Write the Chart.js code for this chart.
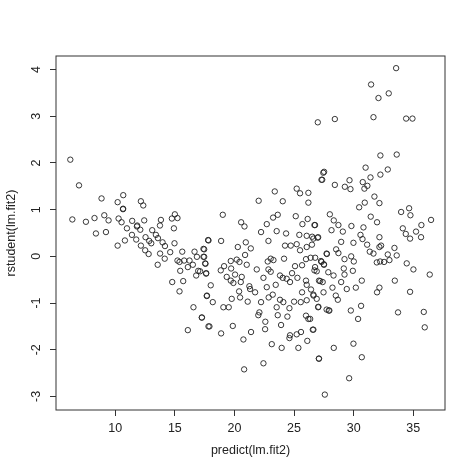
<!DOCTYPE html>
<html><head><meta charset="utf-8">
<script src="https://cdn.jsdelivr.net/npm/chart.js@4/dist/chart.umd.min.js"></script>
<style>html,body{margin:0;padding:0;background:#fff}#w{width:474px;height:474px}</style>
</head><body><div id="w"><canvas id="c"></canvas></div>
<script>
const xTicks=[10,15,20,25,30,35];
const yTicks=[-3,-2,-1,0,1,2,3,4];
const predicted=[6.23,6.96,6.4,7.54,8.26,8.38,8.85,9.08,9.22,9.44,10.2,10.67,10.65,10.66,10.28,10.53,10.2,10.81,10.98,11.42,11.4,11.82,11.84,12.1,12.15,12.35,12.43,11.76,12.15,12.54,12.51,12.8,12.85,13.02,13.1,13.41,13.58,13.75,13.83,13.97,14.17,13.76,14.15,13.56,14.61,14.75,15.0,15.22,14.92,14.97,15.62,15.22,15.39,15.78,16.23,15.45,16.09,16.51,16.65,16.85,17.4,17.82,17.46,17.57,16.96,16.79,17.63,17.69,14.78,15.7,15.39,16.56,17.27,16.09,17.82,
22.03,23.38,25.22,25.5,26.2,24.05,26.2,27.45,27.3,19.02,20.56,20.84,23.24,23.63,25.14,26.14,25.7,26.76,22.23,22.71,23.54,24.33,25.44,26.06,26.62,26.98,17.79,18.88,22.85,24.24,24.72,25.22,25.5,26.06,26.5,27.73,20.95,20.28,21.37,20.89,17.46,17.4,17.54,17.62,17.12,19.13,19.69,20.19,20.42,21.03,19.72,18.85,19.35,19.69,19.91,20.05,20.61,20.53,18.01,17.68,18.18,19.07,19.52,19.77,20.39,20.47,21.11,21.31,21.25,21.73,21.87,22.43,22.79,23.04,22.85,23.04,23.27,24.16,23.82,23.46,22.71,22.23,22.87,23.21,23.82,24.1,23.54,23.63,24.61,24.44,22.09,22.0,22.59,22.57,23.91,24.05,24.38,24.66,25.28,24.83,25.08,25.67,26.0,26.39,26.76,26.9,27.26,27.51,27.09,26.0,26.06,25.67,26.42,26.62,26.9,27.04,27.73,26.06,25.56,25.0,26.0,26.2,26.62,25.58,25.22,24.66,24.61,26.11,25.36,23.96,23.13,21.39,20.75,19.86,18.88,17.9,17.26,22.43,20.81,27.09,27.96,27.87,27.4,
33.56,31.46,32.08,32.94,31.66,34.4,34.93,26.99,28.42,32.24,33.61,27.52,27.36,28.42,29.65,29.26,29.73,30.76,31.0,31.41,30.9,31.15,32.24,32.86,31.74,32.16,30.93,30.46,31.43,31.96,33.98,34.65,34.76,34.12,34.37,34.73,35.23,35.68,35.65,36.49,28.0,28.33,28.72,29.81,28.14,29.09,28.95,29.98,30.82,30.57,30.74,31.13,32.16,32.16,32.3,33.42,33.61,31.35,31.66,31.94,32.22,32.55,32.86,33.0,34.45,35.01,36.38,33.45,34.73,32.16,31.96,33.72,35.88,35.96,30.68,29.93,30.01,29.23,29.17,29.79,28.53,28.72,27.75,27.3,27.5,28.31,29.23,28.95,29.42,30.18,27.47,28.22,27.19,26.71,26.77,26.52,26.71,27.02,28.5,28.67,27.91,27.02,26.63,29.76,30.37,30.62,26.57,28.33,29.98,30.68,27.08,29.62,27.58,26.35];
const rstudent=[2.07,1.52,0.79,0.74,0.82,0.49,1.24,0.88,0.52,0.77,1.16,1.31,1.01,1.02,0.81,0.73,0.23,0.34,0.6,0.76,0.46,0.64,0.66,0.57,1.18,1.09,0.77,0.36,0.23,0.41,0.13,0.05,0.33,0.28,0.56,0.46,0.39,0.66,0.78,0.3,0.22,0.06,-0.05,-0.18,0.09,0.81,0.9,0.82,0.6,0.28,0.1,-0.09,-0.12,-0.09,-0.09,-0.31,-0.23,-0.18,0.1,-0.01,0.16,0.34,-0.01,-0.16,-0.31,-0.41,-0.36,-0.84,-0.55,-0.53,-0.75,-1.09,-1.31,-1.58,-1.5,
1.19,1.39,1.45,1.35,1.36,1.18,1.15,1.79,1.64,0.89,0.73,0.64,0.83,0.89,0.86,0.8,0.69,0.67,0.52,0.69,0.54,0.49,0.46,0.44,0.38,0.4,0.35,0.33,0.33,0.23,0.23,0.26,0.13,0.2,0.25,0.06,0.3,0.2,0.17,0.03,0.15,-0.01,-0.15,-0.37,-0.32,-0.21,-0.1,-0.07,-0.12,-0.18,-0.26,-0.3,-0.44,-0.52,-0.57,-0.39,-0.44,-0.55,-0.62,-0.85,-0.98,-1.09,-1.09,-0.91,-0.75,-0.88,-0.97,-0.7,-0.64,-0.77,-0.28,-0.46,-0.11,-0.05,-0.28,-0.33,-0.08,-0.05,-0.41,-0.61,-0.66,-0.98,-0.88,-0.82,-0.93,-0.98,-1.09,-1.26,-1.11,-1.29,-1.2,-1.26,-1.4,-1.56,-1.47,-0.46,-0.48,-0.55,-0.46,-0.36,-0.21,-0.19,-0.06,-0.03,-0.23,-0.32,-0.1,-0.18,-0.52,-0.52,-0.61,-0.77,-0.71,-0.82,-0.91,-1.08,-1.14,-0.94,-0.98,-0.97,-1.27,-1.34,-1.57,-1.62,-1.67,-1.69,-1.75,-1.81,-1.96,-1.96,-1.88,-1.62,-1.78,-1.49,-1.65,-1.5,-1.31,-2.29,-2.42,-2.19,-1.16,-0.34,-0.55,
4.03,3.68,3.39,3.49,2.98,2.95,2.95,2.87,2.94,2.16,2.18,1.81,1.64,1.53,1.63,1.49,1.44,1.59,1.9,1.69,1.45,1.51,1.75,1.86,1.28,1.14,1.15,1.05,0.85,0.73,0.95,1.03,0.88,0.6,0.48,0.38,0.53,0.67,0.41,0.78,0.9,0.77,0.67,0.65,0.56,0.53,0.31,0.29,0.62,0.46,0.37,0.25,0.41,0.2,0.23,0.18,0.02,0.1,0.06,-0.13,-0.11,-0.12,0.04,-0.08,-0.15,-0.28,-0.39,-0.52,-0.76,-0.67,-0.77,-1.2,-1.19,-1.52,-0.52,-0.31,-0.11,-0.06,-0.26,0.0,0.15,0.07,0.05,-0.12,-0.17,-0.41,-0.39,-0.55,-0.7,-0.67,-0.77,-0.67,-0.53,-0.3,-0.03,0.42,0.67,0.41,-0.84,-0.93,-1.16,-1.09,-0.84,-1.16,-1.34,-1.06,-1.57,-1.96,-1.87,-2.16,-2.19,-2.61,-2.96,-1.34];
const pts=predicted.map((x,i)=>({x:x,y:rstudent[i]}));
const font={family:'"Liberation Sans", Arial, sans-serif',size:12.5};
const box={id:'box',afterDraw(c){const a=c.chartArea,g=c.ctx;g.save();g.strokeStyle='#333';g.lineWidth=1;g.strokeRect(a.left,a.top,a.right-a.left,a.bottom-a.top);
 const ys=c.scales.y;g.fillStyle='#222';g.font='12.5px "Liberation Sans", Arial, sans-serif';g.textAlign='center';g.textBaseline='middle';
 yTicks.forEach(v=>{const p=ys.getPixelForValue(v);g.save();g.translate(37,p);g.rotate(-Math.PI/2);g.fillText(String(v),0,0);g.restore();});
 g.restore();}};
new Chart(document.getElementById('c'),{type:'scatter',
data:{datasets:[{data:pts,pointStyle:'circle',radius:2.7,borderColor:'#222',borderWidth:0.9,backgroundColor:'rgba(0,0,0,0)'}]},
options:{responsive:true,maintainAspectRatio:false,animation:false,
layout:{padding:{top:56,right:29,left:0,bottom:12}},
plugins:{legend:{display:false},tooltip:{enabled:false}},
scales:{
x:{type:'linear',min:5.03,max:37.66,afterBuildTicks(s){s.ticks=xTicks.map(v=>({value:v}));},
 afterFit(s){s.height=52;},
 grid:{drawOnChartArea:false,drawTicks:true,tickLength:6,color:'#333'},border:{display:false},
 ticks:{color:'#222',font:font,padding:5,maxRotation:0,autoSkip:false},
 title:{display:true,text:'predict(lm.fit2)',color:'#222',font:font,padding:{top:4}}},
y:{type:'linear',min:-3.29,max:4.29,afterBuildTicks(s){s.ticks=yTicks.map(v=>({value:v}));},
 afterFit(s){s.width=56;},
 grid:{drawOnChartArea:false,drawTicks:true,tickLength:6,color:'#333'},border:{display:false},
 ticks:{display:false},
 title:{display:true,text:'rstudent(lm.fit2)',color:'#222',font:font,padding:{bottom:2}}}
}},plugins:[box]});
</script></body></html>
